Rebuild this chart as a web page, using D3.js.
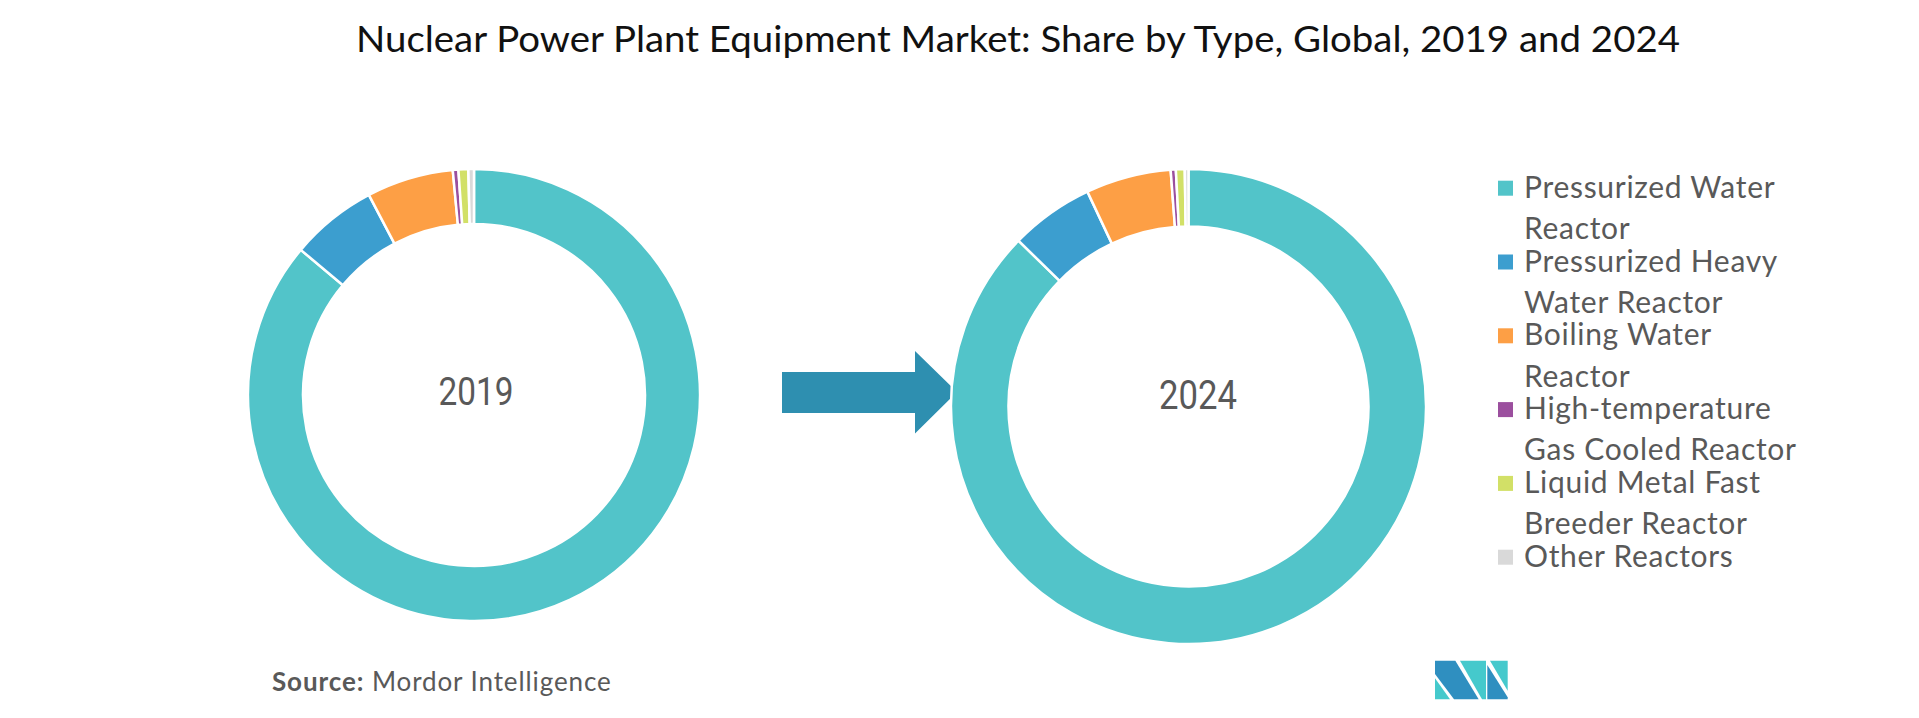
<!DOCTYPE html>
<html>
<head>
<meta charset="utf-8">
<script src="https://cdn.jsdelivr.net/npm/d3@7"></script>
<style>
  html, body { margin: 0; padding: 0; background: #fff; }
  svg { display: block; }
</style>
</head>
<body>
<svg id="chart" width="1919" height="718"></svg>
<script>
// ---- Data ----
const title = "Nuclear Power Plant Equipment Market: Share by Type, Global, 2019 and 2024";
const categories = [
  "Pressurized Water Reactor",
  "Pressurized Heavy Water Reactor",
  "Boiling Water Reactor",
  "High-temperature Gas Cooled Reactor",
  "Liquid Metal Fast Breeder Reactor",
  "Other Reactors"
];
const colors = ["#52c4c9", "#3c9ecf", "#fd9f45", "#9b4f9e", "#d2e067", "#d9d9d9"];
const years = ["2019", "2024"];
const shares2019 = [86.1, 6.2, 6.2, 0.4, 0.7, 0.4];
const shares2024 = [87.3, 5.7, 5.8, 0.35, 0.6, 0.25];
const sourceLabel = "Source:";
const sourceText = " Mordor Intelligence";

// ---- Drawing ----
const svg = d3.select("#chart");

svg.append("text")
  .attr("x", 356).attr("y", 51.5)
  .attr("font-family", "Lato, 'Open Sans', sans-serif")
  .attr("font-size", 37)
  .attr("fill", "#111")
  .attr("textLength", 1324)
  .attr("lengthAdjust", "spacingAndGlyphs")
  .text(title);

const pie = d3.pie().sort(null).value(d => d);

const donuts = [
  { year: years[0], values: shares2019, cx: 474, cy: 395, outer: 226, inner: 171, lx: 476, ly: 405, fs: 38, tl: 75 },
  { year: years[1], values: shares2024, cx: 1188.5, cy: 406.5, outer: 237.5, inner: 180, lx: 1198, ly: 408.5, fs: 40, tl: 78 }
];

// Arrow (drawn before donuts so the 2024 donut overlaps its tip)
const arrowPts = [[782, 372], [915, 372], [915, 351], [957, 392], [915, 433.5], [915, 413], [782, 413]];
svg.append("path")
  .attr("d", d3.line()(arrowPts) + "Z")
  .attr("fill", "#2e8fb0");

donuts.forEach(dn => {
  const arc = d3.arc().innerRadius(dn.inner).outerRadius(dn.outer);
  const g = svg.append("g").attr("transform", `translate(${dn.cx},${dn.cy})`);
  g.selectAll("path")
    .data(pie(dn.values))
    .join("path")
    .attr("d", arc)
    .attr("fill", (d, i) => colors[i])
    .attr("stroke", "#fff")
    .attr("stroke-width", 2.5)
    .attr("stroke-linejoin", "miter");
  svg.append("text")
    .attr("x", dn.lx).attr("y", dn.ly)
    .attr("text-anchor", "middle")
    .attr("font-family", "Roboto, 'Liberation Sans', sans-serif")
    .attr("font-size", dn.fs)
    .attr("fill", "#595959")
    .attr("textLength", dn.tl)
    .attr("lengthAdjust", "spacingAndGlyphs")
    .text(dn.year);
});

// Legend
function wrap(label, maxChars) {
  const words = label.split(" ");
  const lines = [];
  let cur = "";
  words.forEach(w => {
    const cand = cur ? cur + " " + w : w;
    if (cand.length > maxChars && cur) { lines.push(cur); cur = w; }
    else cur = cand;
  });
  if (cur) lines.push(cur);
  return lines;
}
const legendY = d3.scaleLinear().domain([0, categories.length - 1]).range([197.7, 566.7]);
const legend = svg.append("g");
categories.forEach((c, i) => {
  const by = legendY(i);
  legend.append("rect")
    .attr("x", 1498).attr("y", by - 17)
    .attr("width", 15).attr("height", 15)
    .attr("fill", colors[i]);
  const t = legend.append("text")
    .attr("x", 1524).attr("y", by)
    .attr("font-family", "Lato, 'Open Sans', sans-serif")
    .attr("font-size", 30)
    .attr("letter-spacing", 0.7)
    .attr("fill", "#595959");
  wrap(c, 18).forEach((line, k) => {
    t.append("tspan").attr("x", 1524).attr("y", by + k * 41.3).text(line);
  });
});

// Source
const src = svg.append("text")
  .attr("x", 272).attr("y", 691)
  .attr("font-family", "Lato, 'Open Sans', sans-serif")
  .attr("font-size", 26)
  .attr("letter-spacing", 0.9)
  .attr("fill", "#595959");
src.append("tspan").attr("font-weight", "bold").text(sourceLabel);
src.append("tspan").text(sourceText);

// Logo
const lx = zx => 1380 + zx / 3, ly = zy => 640 + zy / 3;
const logoShapes = [
  { pts: [[165, 115], [165, 178], [210, 178]], c: "#45c9cc" },
  { pts: [[165, 62], [226, 62], [296, 178], [222, 178], [165, 102]], c: "#2f8fc0" },
  { pts: [[240, 62], [318, 62], [318, 178], [306, 178]], c: "#45c9cc" },
  { pts: [[330, 62], [383, 62], [383, 152]], c: "#45c9cc" },
  { pts: [[322, 75], [383, 172], [383, 178], [322, 178]], c: "#2f8fc0" }
];
logoShapes.forEach(s => {
  svg.append("path")
    .attr("d", d3.line()(s.pts.map(p => [lx(p[0]), ly(p[1])])) + "Z")
    .attr("fill", s.c);
});
</script>
</body>
</html>
